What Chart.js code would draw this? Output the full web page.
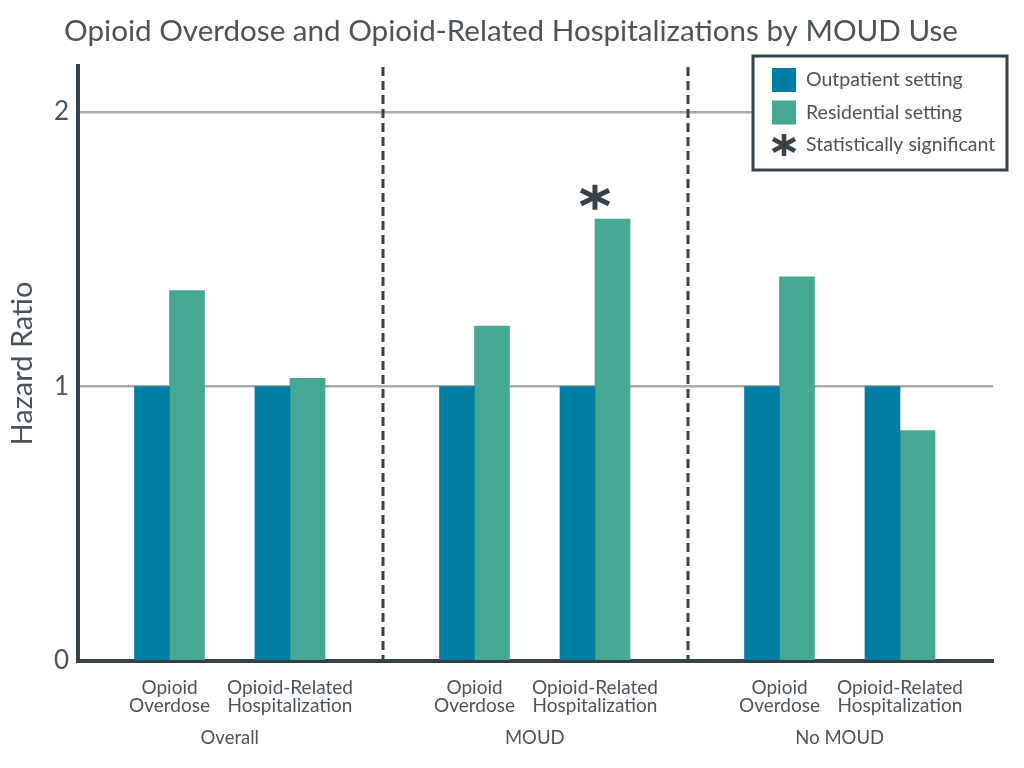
<!DOCTYPE html>
<html>
<head>
<meta charset="utf-8">
<script src="https://cdn.jsdelivr.net/npm/chart.js@4.4.1/dist/chart.umd.min.js"></script>
<style>
  html, body { margin: 0; padding: 0; background: #fff; }
  #wrap { width: 1024px; height: 768px; position: relative; }
</style>
</head>
<body>
<div id="wrap"><canvas id="chartHR"></canvas></div>
<script>
const chartTitle = 'Opioid Overdose and Opioid-Related Hospitalizations by MOUD Use';
const groups = ['Overall', 'MOUD', 'No MOUD'];
const outcomes = [['Opioid', 'Overdose'], ['Opioid-Related', 'Hospitalization']];
const labels = groups.flatMap(() => outcomes);

const outpatient = [1, 1, 1, 1, 1, 1];
const residential = [1.35, 1.03, 1.22, 1.61, 1.40, 0.84];
const significant = [false, false, false, true, false, false];

const yTicks = [0, 1, 2];

const DARK = '#36424a';
const TEXT = '#4a545d';
const FONT = 'Lato, "Open Sans", sans-serif';

// category axis with two bars per group, grouped closer together
class PairedCategoryScale extends Chart.CategoryScale {
  getPixelForValue(value) {
    if (typeof value !== 'number') value = this.parse(value);
    if (value === null) return NaN;
    const g = Math.floor(value / 2);
    const slot = value % 2 === 0 ? 0.30 : 0.695;
    return this.getPixelForDecimal((g + slot) / groups.length);
  }
}
PairedCategoryScale.id = 'pairedCategory';
Chart.register(PairedCategoryScale);

function drawStar(ctx, x, y, w, h, lw) {
  ctx.save();
  ctx.strokeStyle = DARK;
  ctx.lineWidth = lw;
  ctx.lineCap = 'butt';
  ctx.beginPath();
  ctx.moveTo(x, y - h); ctx.lineTo(x, y + h);
  ctx.moveTo(x - w, y - h * 0.55); ctx.lineTo(x + w, y + h * 0.55);
  ctx.moveTo(x - w, y + h * 0.55); ctx.lineTo(x + w, y - h * 0.55);
  ctx.stroke();
  ctx.restore();
}

const decorations = {
  id: 'decorations',
  afterDatasetsDraw(chart) {
    const { ctx, chartArea, scales: { x } } = chart;
    // dashed separators between groups
    ctx.save();
    ctx.strokeStyle = DARK;
    ctx.lineWidth = 3;
    ctx.setLineDash([9, 5]);
    for (let g = 1; g < groups.length; g++) {
      const px = x.getPixelForDecimal(g / groups.length);
      ctx.beginPath();
      ctx.moveTo(px, chartArea.top + 1);
      ctx.lineTo(px, chartArea.bottom);
      ctx.stroke();
    }
    ctx.restore();

    // significance markers
    const meta = chart.getDatasetMeta(1);
    significant.forEach((s, i) => {
      if (!s) return;
      const bar = meta.data[i];
      drawStar(ctx, bar.x - bar.width / 2, bar.y - 22, 14, 12.5, 5);
    });

    // group labels
    ctx.save();
    ctx.fillStyle = TEXT;
    ctx.font = '18.5px ' + FONT;
    ctx.textAlign = 'center';
    ctx.textBaseline = 'middle';
    groups.forEach((g, i) => {
      const cx = (x.getPixelForValue(2 * i) + x.getPixelForValue(2 * i + 1)) / 2;
      ctx.fillText(g, cx, 738);
    });
    ctx.restore();
  },
  afterDraw(chart) {
    const { ctx } = chart;
    ctx.save();
    // title
    ctx.fillStyle = TEXT;
    ctx.font = '29.6px ' + FONT;
    ctx.textAlign = 'center';
    ctx.textBaseline = 'middle';
    ctx.fillText(chartTitle, 511, 31);

    // legend box
    ctx.fillStyle = '#fff';
    ctx.fillRect(753, 56, 254, 114);
    ctx.strokeStyle = DARK;
    ctx.lineWidth = 3;
    ctx.strokeRect(753, 56, 254, 114);
    const ds = chart.data.datasets;
    ctx.font = '19.5px ' + FONT;
    ctx.textBaseline = 'middle';
    ctx.textAlign = 'left';
    const rows = [80, 112.5, 145];
    ds.forEach((d, i) => {
      ctx.fillStyle = d.backgroundColor;
      ctx.fillRect(772, rows[i] - 12, 24, 24);
      ctx.fillStyle = TEXT;
      ctx.fillText(d.label, 806, rows[i]);
    });
    drawStar(ctx, 784, rows[2], 11, 11, 4.5);
    ctx.fillStyle = TEXT;
    ctx.fillText('Statistically significant', 806, rows[2]);
    ctx.restore();
  }
};

new Chart(document.getElementById('chartHR'), {
  type: 'bar',
  data: {
    labels,
    datasets: [
      { label: 'Outpatient setting', data: outpatient, backgroundColor: '#007ea4' },
      { label: 'Residential setting', data: residential, backgroundColor: '#45a893' }
    ]
  },
  options: {
    responsive: true,
    maintainAspectRatio: false,
    animation: false,
    barThickness: 35,
    layout: { padding: { left: 0, right: 31, top: 66, bottom: 0 } },
    plugins: {
      legend: { display: false },
      tooltip: { enabled: false },
      title: { display: false }
    },
    scales: {
      x: {
        type: 'pairedCategory',
        grid: { display: false },
        border: { display: true, color: DARK, width: 4 },
        ticks: {
          color: TEXT,
          font: { family: FONT, size: 19, lineHeight: 0.96 },
          padding: 10,
          maxRotation: 0,
          autoSkip: false
        },
        afterFit: s => { s.height = 107; }
      },
      y: {
        min: 0,
        max: 2.168,
        grid: { color: '#ababab', lineWidth: 2.5, drawTicks: false },
        border: { color: DARK, width: 4 },
        ticks: {
          stepSize: 1,
          includeBounds: false,
          color: TEXT,
          padding: 9,
          font: { family: FONT, size: 26 },
          callback: v => yTicks.includes(v) ? String(v) : ''
        },
        title: {
          display: true,
          text: 'Hazard Ratio',
          color: TEXT,
          font: { family: FONT, size: 29 },
          padding: { top: 5, bottom: 0 }
        },
        afterFit: s => { s.width = 78; }
      }
    }
  },
  plugins: [decorations]
});
</script>
</body>
</html>
